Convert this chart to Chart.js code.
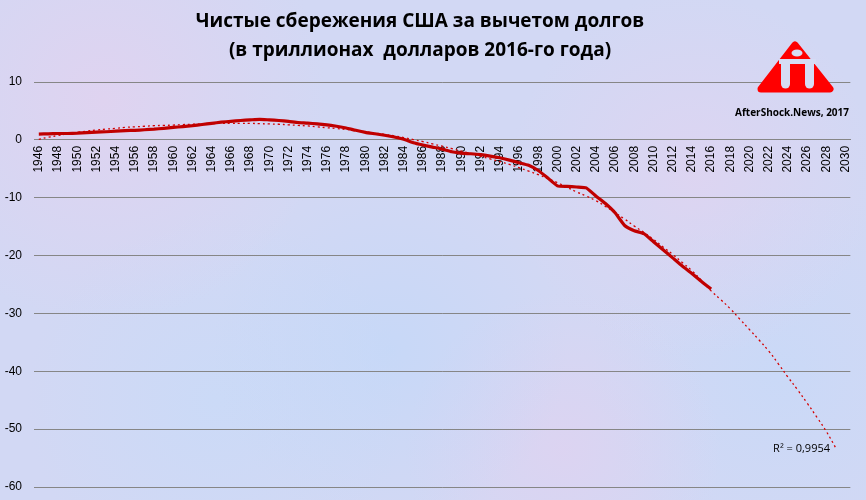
<!DOCTYPE html>
<html lang="ru">
<head>
    <meta charset="UTF-8">
    <script src="https://cdn.jsdelivr.net/npm/chart.js@4/dist/chart.umd.min.js"></script>
    <title>Чистые сбережения США</title>
    <style type="text/css">
        body {
            margin: 0;
            background-color: #d2d8f4;
            background-image:
                radial-gradient(circle at 12% 20%, rgba(236, 206, 236, 0.5), transparent 26%),
                radial-gradient(circle at 45% 70%, rgba(190, 216, 250, 0.55), transparent 30%),
                radial-gradient(circle at 80% 35%, rgba(234, 208, 238, 0.45), transparent 24%),
                radial-gradient(circle at 65% 90%, rgba(232, 206, 238, 0.45), transparent 22%),
                radial-gradient(circle at 25% 80%, rgba(196, 220, 250, 0.5), transparent 25%),
                radial-gradient(circle at 90% 75%, rgba(194, 218, 250, 0.5), transparent 22%);
        }
        canvas { display: block; }
    </style>
<script>
var years = [
    "1946","1947","1948","1949","1950","1951","1952","1953","1954","1955",
    "1956","1957","1958","1959","1960","1961","1962","1963","1964","1965",
    "1966","1967","1968","1969","1970","1971","1972","1973","1974","1975",
    "1976","1977","1978","1979","1980","1981","1982","1983","1984","1985",
    "1986","1987","1988","1989","1990","1991","1992","1993","1994","1995",
    "1996","1997","1998","1999","2000","2001","2002","2003","2004","2005",
    "2006","2007","2008","2009","2010","2011","2012","2013","2014","2015",
    "2016","2017","2018","2019","2020","2021","2022","2023","2024","2025",
    "2026","2027","2028","2029","2030"
];

// net savings, trillions of 2016 dollars, 1946-2016
var savings = [
    1.0, 1.05, 1.1, 1.1, 1.15, 1.25, 1.35, 1.4, 1.5, 1.6,
    1.65, 1.75, 1.85, 2.0, 2.15, 2.3, 2.45, 2.65, 2.85, 3.05,
    3.2, 3.35, 3.45, 3.55, 3.45, 3.35, 3.2, 3.0, 2.9, 2.75,
    2.6, 2.35, 2.05, 1.65, 1.3, 1.05, 0.8, 0.5, 0.1, -0.5,
    -0.9, -1.25, -1.6, -2.05, -2.3, -2.4, -2.55, -2.8, -3.1, -3.5,
    -3.95, -4.4, -5.3, -6.6, -7.95, -8.05, -8.15, -8.3, -9.7, -11.0,
    -12.6, -14.8, -15.7, -16.2, -17.6, -19.0, -20.4, -21.8, -23.1, -24.5,
    -25.8
];

// polynomial trend, 1946-2029
var trend = [
    0.1, 0.45, 0.75, 1.05, 1.3, 1.5, 1.7, 1.85, 2.0, 2.15,
    2.25, 2.35, 2.45, 2.5, 2.55, 2.65, 2.7, 2.75, 2.8, 2.85,
    2.85, 2.85, 2.85, 2.8, 2.75, 2.7, 2.6, 2.5, 2.4, 2.25,
    2.1, 1.95, 1.8, 1.6, 1.4, 1.2, 0.95, 0.7, 0.4, 0.05,
    -0.3, -0.7, -1.1, -1.5, -1.95, -2.4, -2.85, -3.3, -3.75, -4.25,
    -4.8, -5.4, -6.0, -6.7, -7.4, -8.2, -9.0, -9.7, -10.5, -11.5,
    -12.6, -13.7, -14.9, -16.0, -17.2, -18.5, -19.8, -21.2, -22.6, -24.3,
    -26.1, -27.6, -29.2, -31.0, -32.8, -34.6, -36.5, -38.7, -41.0, -43.2,
    -45.5, -47.9, -50.4, -53.3
];

var titleLines = ["Чистые сбережения США за вычетом долгов", "(в триллионах  долларов 2016-го года)"];
var sourceText = "AfterShock.News, 2017";
var r2Text = "R\u00B2 = 0,9954";

var bg = "#d6dcf4";

function drawLogo(ctx) {
    ctx.save();
    ctx.fillStyle = "#ff0000";
    ctx.strokeStyle = "#ff0000";
    ctx.lineJoin = "round";
    ctx.lineWidth = 7;
    ctx.beginPath();
    ctx.moveTo(795, 45);
    ctx.lineTo(830, 89);
    ctx.lineTo(761, 89);
    ctx.closePath();
    ctx.fill();
    ctx.stroke();
    // holes
    ctx.fillStyle = bg;
    ctx.beginPath();
    ctx.ellipse(797, 53, 5.5, 3.5, 0, 0, Math.PI * 2);
    ctx.fill();
    ctx.fillRect(779, 59, 37, 5);
    ctx.beginPath();
    ctx.moveTo(781, 64);
    ctx.lineTo(790, 64);
    ctx.lineTo(790, 84);
    ctx.arc(785.5, 84, 4.5, 0, Math.PI);
    ctx.closePath();
    ctx.fill();
    ctx.beginPath();
    ctx.moveTo(805, 64);
    ctx.lineTo(814, 64);
    ctx.lineTo(814, 84);
    ctx.arc(809.5, 84, 4.5, 0, Math.PI);
    ctx.closePath();
    ctx.fill();
    ctx.restore();
}

var decorations = {
    id: 'decorations',
    afterDraw: function(chart) {
        var ctx = chart.ctx;
        ctx.save();
        ctx.fillStyle = "#000";
        ctx.textAlign = "center";
        ctx.textBaseline = "middle";
        ctx.font = "bold 19px 'Open Sans'";
        ctx.fillText(titleLines[0], 420, 22);
        ctx.fillText(titleLines[1], 420, 51);

        ctx.font = "bold 10px 'Open Sans'";
        ctx.textAlign = "right";
        ctx.fillText(sourceText, 849, 113);

        ctx.font = "11px 'Open Sans'";
        ctx.fillText(r2Text, 830, 449);
        ctx.restore();
        drawLogo(ctx);
    }
};

// keep the plot box fixed: no extra label padding from the axes
function noPad(scale) {
    scale.paddingTop = 0;
    scale.paddingBottom = 0;
}

window.onload = function() {
    var ctx = document.getElementById("chart");
    new Chart(ctx, {
        type: 'line',
        data: {
            labels: years,
            datasets: [
            {
                label: 'Сбережения',
                data: savings,
                borderColor: "#c00000",
                borderWidth: 3.2,
                pointRadius: 0,
                tension: 0.15,
                fill: false,
                order: 1
            },
            {
                label: 'Тренд',
                data: trend,
                borderColor: "#d40000",
                borderWidth: 1.3,
                borderDash: [2, 3],
                pointRadius: 0,
                tension: 0.4,
                fill: false,
                order: 2
            }]
        },
        options: {
            responsive: false,
            animation: false,
            layout: {padding: {top: 82, bottom: 13, left: 0, right: 9}},
            plugins: {
                legend: {display: false},
                tooltip: {enabled: false}
            },
            scales: {
                x: {
                    position: {y: 0},
                    offset: true,
                    afterFit: noPad,
                    grid: {display: false, drawTicks: false},
                    border: {display: true, color: "#868686", width: 1},
                    ticks: {
                        autoSkip: false,
                        minRotation: 90,
                        maxRotation: 90,
                        padding: 6,
                        color: "#000",
                        font: {family: "'Liberation Sans'", size: 12},
                        callback: function(val, i) {
                            return i % 2 == 0 ? years[i] : '';
                        }
                    }
                },
                y: {
                    min: -60,
                    max: 10,
                    afterFit: function(scale) { scale.width = 34; noPad(scale); },
                    grid: {color: "#868686", lineWidth: 1, drawTicks: false},
                    border: {display: false},
                    ticks: {
                        stepSize: 10,
                        padding: 12,
                        color: "#000",
                        font: {family: "'Liberation Sans'", size: 12}
                    }
                }
            }
        },
        plugins: [decorations]
    });
};
</script>
</head>
<body>
    <canvas id="chart" width="866" height="500"></canvas>
</body>
</html>
